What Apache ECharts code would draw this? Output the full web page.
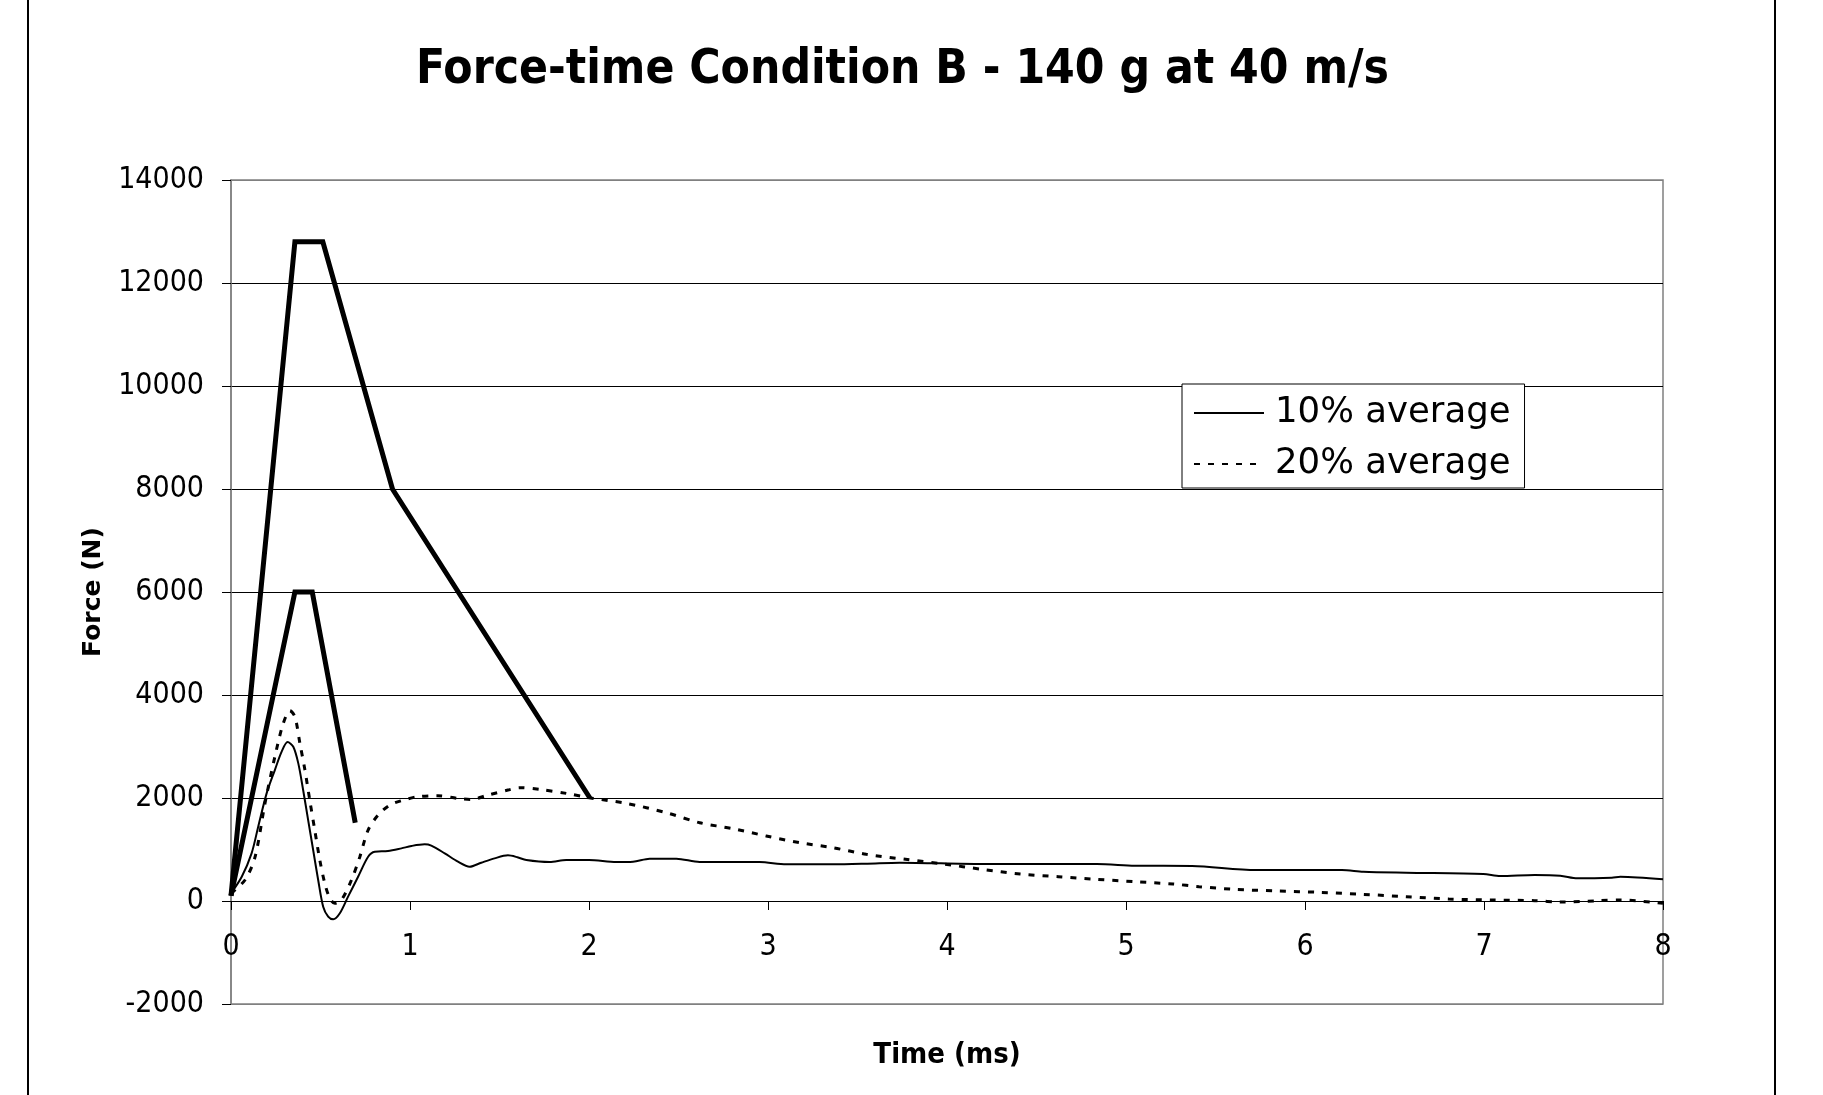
<!DOCTYPE html>
<html>
<head>
<meta charset="utf-8">
<script src="https://cdn.jsdelivr.net/npm/echarts@6/dist/echarts.min.js"></script>
<style>
html,body{margin:0;padding:0;background:#fff;}
#chart{width:1823px;height:1095px;}
</style>
</head>
<body>
<div id="chart"></div>
<script>
// ---- data (time in ms, force in N) ----
var t10 = [0, 0.06, 0.115, 0.152, 0.199, 0.245, 0.283, 0.316, 0.348, 0.376, 0.403, 0.431, 0.459, 0.487, 0.515, 0.543, 0.571, 0.608, 0.654, 0.71, 0.766, 0.803, 0.877, 0.952, 1.008, 1.082, 1.119, 1.194, 1.268, 1.333, 1.398, 1.472, 1.547, 1.6, 1.65, 1.78, 1.873, 2.0, 2.153, 2.246, 2.339, 2.488, 2.618, 2.953, 3.102, 3.363, 3.555, 3.736, 4.195, 4.836, 5.049, 5.369, 5.727, 6.206, 6.326, 6.565, 6.996, 7.091, 7.283, 7.426, 7.522, 7.714, 7.762, 8.0];
var v10 = [149, 472, 925, 1443, 2090, 2543, 2899, 3086, 2996, 2672, 2155, 1572, 990, 408, -110, -304, -356, -239, 84, 472, 860, 958, 970, 1022, 1068, 1100, 1074, 925, 763, 666, 744, 828, 886, 850, 796, 757, 796, 796, 757, 763, 822, 822, 757, 757, 712, 712, 725, 744, 718, 718, 686, 679, 602, 602, 569, 550, 524, 485, 505, 492, 440, 453, 472, 421];

var t20 = [0, 0.078, 0.134, 0.19, 0.245, 0.292, 0.329, 0.357, 0.385, 0.413, 0.44, 0.468, 0.496, 0.524, 0.552, 0.58, 0.617, 0.673, 0.72, 0.766, 0.822, 0.887, 0.952, 1.045, 1.156, 1.268, 1.342, 1.435, 1.547, 1.613, 1.725, 1.873, 2.0, 2.209, 2.432, 2.618, 2.804, 2.99, 3.177, 3.363, 3.549, 3.768, 3.982, 4.195, 4.409, 4.622, 4.836, 5.049, 5.263, 5.408, 5.607, 5.847, 6.086, 6.326, 6.565, 6.804, 7.044, 7.283, 7.426, 7.642, 7.762, 8.0];
var v20 = [149, 408, 850, 1900, 2801, 3449, 3694, 3578, 3060, 2543, 1960, 1378, 796, 343, 52, -45, 19, 408, 860, 1378, 1669, 1863, 1948, 2025, 2044, 1993, 1973, 2057, 2155, 2200, 2167, 2090, 2006, 1896, 1715, 1520, 1404, 1262, 1132, 1035, 906, 809, 718, 615, 524, 472, 421, 375, 330, 278, 226, 194, 168, 129, 84, 39, 19, 6, -19, 6, 19, -45];

var tEnvHigh = [0, 0.357, 0.513, 0.902, 2.005];
var vEnvHigh = [100, 12800, 12800, 8000, 2000];

var tEnvLow = [0, 0.357, 0.454, 0.694];
var vEnvLow = [100, 6000, 6000, 1520];

var seriesNames = ['10% average', '20% average'];
var xTicks = [0, 1, 2, 3, 4, 5, 6, 7, 8];
var yTicks = [-2000, 0, 2000, 4000, 6000, 8000, 10000, 12000, 14000];

function pairs(t, v) { return t.map(function (x, i) { return [x, v[i]]; }); }

var COND = "'DejaVu Sans Condensed', 'DejaVu Sans', sans-serif";
var splitColors = yTicks.map(function (v, i) { return (i === 0 || i === yTicks.length - 1) ? '#808080' : '#000000'; });

var chart = echarts.init(document.getElementById('chart'), null, { renderer: 'canvas' });
chart.setOption({
  backgroundColor: '#ffffff',
  animation: false,
  title: {
    text: 'Force-time Condition B - 140 g at 40 m/s',
    left: 411,
    top: 42,
    textStyle: { fontFamily: COND, fontWeight: 'bold', fontSize: 47.5, color: '#000' }
  },
  legend: {
    data: seriesNames,
    orient: 'vertical',
    left: 1182,
    top: 384,
    backgroundColor: '#ffffff',
    borderColor: '#000000',
    borderWidth: 1,
    borderRadius: 0,
    padding: [9, 14, 4, 11],
    itemGap: 11,
    itemWidth: 70,
    itemHeight: 14,
    itemStyle: { opacity: 0 },
    textStyle: { fontFamily: "'DejaVu Sans', sans-serif", fontSize: 35.5, color: '#000', lineHeight: 40, padding: [0, 0, 0, 6] }
  },
  grid: {
    show: true,
    left: 231,
    right: 160,
    top: 180,
    bottom: 91,
    outerBoundsMode: 'none',
    containLabel: false,
    borderColor: '#808080',
    borderWidth: 1.5,
    backgroundColor: 'transparent'
  },
  xAxis: {
    type: 'value',
    min: 0,
    max: 8,
    interval: 1,
    name: 'Time (ms)',
    nameLocation: 'middle',
    nameGap: 37,
    nameMoveOverlap: false,
    nameTextStyle: { fontFamily: COND, fontWeight: 'bold', fontSize: 29, color: '#000' },
    axisLine: { show: true, onZero: true, lineStyle: { color: '#000', width: 1 } },
    axisTick: { show: true, inside: false, length: 9, lineStyle: { color: '#000' } },
    axisLabel: { margin: -72, fontFamily: COND, fontSize: 30, color: '#000', formatter: function (v) { return String(v); } },
    splitLine: { show: false }
  },
  yAxis: {
    type: 'value',
    min: -2000,
    max: 14000,
    interval: 2000,
    name: 'Force (N)',
    nameLocation: 'middle',
    nameGap: 125,
    nameRotate: 90,
    nameMoveOverlap: false,
    nameTextStyle: { fontFamily: "'DejaVu Sans', sans-serif", fontWeight: 'bold', fontSize: 25, color: '#000' },
    axisLine: { show: true, lineStyle: { color: '#808080', width: 1.5 } },
    axisTick: { show: true, inside: false, length: 9, lineStyle: { color: '#000' } },
    axisLabel: { margin: 27, fontFamily: COND, fontSize: 30, color: '#000', formatter: function (v) { return String(v); } },
    splitLine: { show: true, lineStyle: { color: splitColors, width: 1 } }
  },
  series: [
    {
      name: seriesNames[0],
      type: 'line',
      data: pairs(t10, v10),
      symbol: 'none',
      smooth: 0.3,
      lineStyle: { color: '#000', width: 2, type: 'solid' },
      itemStyle: { color: '#000' },
      z: 3
    },
    {
      name: seriesNames[1],
      type: 'line',
      data: pairs(t20, v20),
      symbol: 'none',
      smooth: 0.3,
      lineStyle: { color: '#000', width: 3, type: [6, 8] },
      itemStyle: { color: '#000' },
      z: 3
    },
    {
      name: 'Envelope high',
      type: 'line',
      data: pairs(tEnvHigh, vEnvHigh),
      symbol: 'none',
      lineStyle: { color: '#000', width: 5, join: 'miter' },
      itemStyle: { color: '#000' },
      z: 4
    },
    {
      name: 'Envelope low',
      type: 'line',
      data: pairs(tEnvLow, vEnvLow),
      symbol: 'none',
      lineStyle: { color: '#000', width: 5, join: 'miter' },
      itemStyle: { color: '#000' },
      z: 4
    }
  ],
  graphic: [
    { type: 'line', shape: { x1: 28, y1: 0, x2: 28, y2: 1095 }, style: { stroke: '#000', lineWidth: 2 }, silent: true },
    { type: 'line', shape: { x1: 1775, y1: 0, x2: 1775, y2: 1095 }, style: { stroke: '#000', lineWidth: 2 }, silent: true }
  ]
});
</script>
</body>
</html>
